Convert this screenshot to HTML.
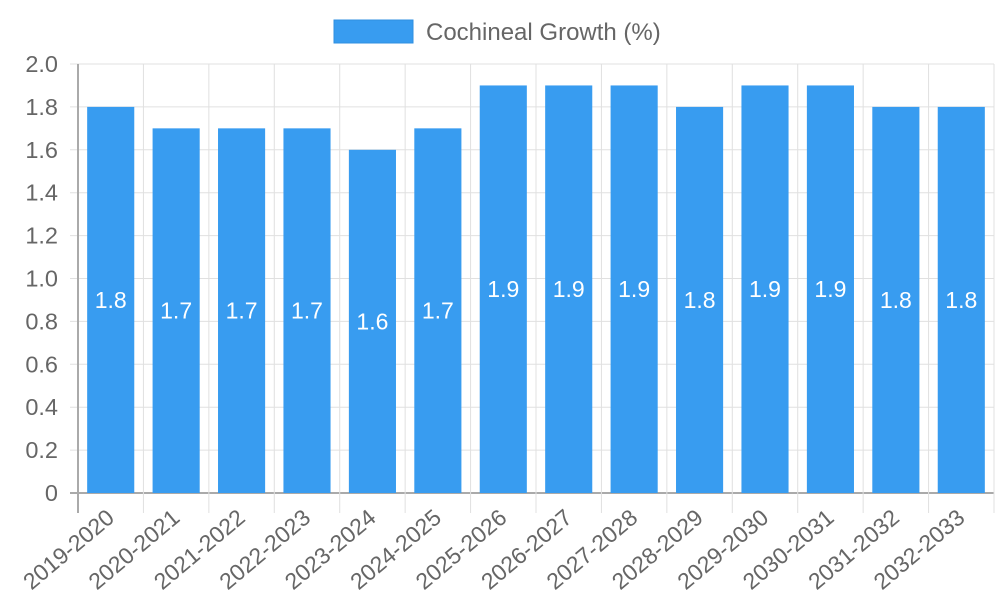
<!DOCTYPE html>
<html><head><meta charset="utf-8"><style>
body{margin:0;background:#fff}svg{display:block;font-family:"Liberation Sans",sans-serif}
</style></head><body>
<svg id="c" width="1000" height="600">
<g>
<rect x="334" y="20" width="79" height="23" fill="#389cf0" stroke="#2f8fe0"/>
<text x="426" y="40" font-size="24" fill="#666">Cochineal Growth (%)</text>
</g>
</svg>
<script>
const categories=["2019-2020","2020-2021","2021-2022","2022-2023","2023-2024","2024-2025","2025-2026","2026-2027","2027-2028","2028-2029","2029-2030","2030-2031","2031-2032","2032-2033"];
const values=[1.8,1.7,1.7,1.7,1.6,1.7,1.9,1.9,1.9,1.8,1.9,1.9,1.8,1.8];
const yTicks=[0,0.2,0.4,0.6,0.8,1.0,1.2,1.4,1.6,1.8,2.0];
const yTickLabels=["0","0.2","0.4","0.6","0.8","1.0","1.2","1.4","1.6","1.8","2.0"];
const svg=document.getElementById('c');const NS="http://www.w3.org/2000/svg";
const L=78,R=994,T=64,B=493,yMax=2.0;
const step=(R-L)/categories.length;
const y=v=>B-(v/yMax)*(B-T);
const xc=i=>L+step*(i+0.5);
function mk(t,a,p){const e=document.createElementNS(NS,t);for(const k in a)e.setAttribute(k,a[k]);(p||svg).appendChild(e);return e;}
const grid=mk('g',{});


yTicks.forEach((v,i)=>{
 mk('line',{x1:L-8,x2:R,y1:y(v),y2:y(v),stroke:i==0?'#aaa':'#e0e0e0','stroke-width':i==0?2:1},grid);
 const t=mk('text',{x:L-20,y:y(v)+8,'text-anchor':'end','font-size':23.5,fill:'#666'});
 t.textContent=yTickLabels[i];
 
 
});
for(let i=0;i<=categories.length;i++){
 const x=L+step*i;
 mk('line',{x1:x,x2:x,y1:T,y2:B+20,stroke:i==0?'#aaa':'#e0e0e0','stroke-width':i==0?2:1},grid);
}
const bw=step*0.72;
categories.forEach((c,i)=>{
 const r=mk('rect',{x:xc(i)-bw/2,y:y(values[i]),width:bw,height:B-y(values[i]),fill:'#389cf0'});
 
 
 const vl=mk('text',{x:xc(i),y:(y(values[i])+B)/2+8,'text-anchor':'middle','font-size':23,fill:'#fff'});
 vl.textContent=values[i].toFixed(1);
 
 
 const xl=mk('text',{x:0,y:0,'text-anchor':'end','font-size':23,fill:'#666',transform:`translate(${xc(i)+5},${B+27}) rotate(-40)`});
 xl.textContent=c;
 
 
});
mk('line',{x1:L,x2:L,y1:T,y2:B+20,stroke:'#aaa','stroke-width':2});
</script>
</body></html>
